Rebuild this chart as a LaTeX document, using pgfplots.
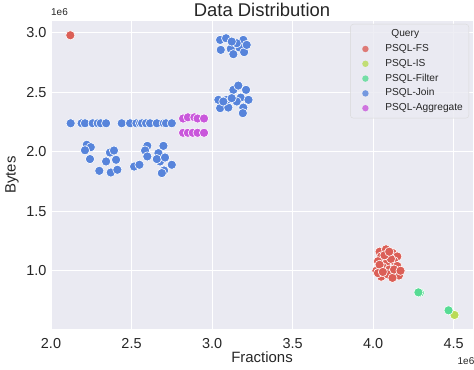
\documentclass[border=0pt]{standalone}
\usepackage{fontspec}
\setmainfont{Liberation Sans}
\usepackage{pgfplots}
\usepackage{pgfplotstable}
\pgfplotsset{compat=1.18}

\definecolor{axbg}{HTML}{EAEAF2}
\definecolor{cFS}{HTML}{DB5F57}
\definecolor{cIS}{HTML}{B9DB57}
\definecolor{cFilter}{HTML}{57DB94}
\definecolor{cJoin}{HTML}{5784DB}
\definecolor{cAgg}{HTML}{C957DB}
\definecolor{txt}{HTML}{262626}

% values in units of 1e6
\pgfplotstableread{
x y
2.12 2.98
4.04 1.16
4.08 1.18
4.12 1.15
4.15 1.12
4.05 1.12
4.03 1.08
4.08 1.06
4.13 1.08
4.06 1.03
4.10 1.01
4.02 1.00
4.14 0.99
4.16 0.96
4.05 0.95
4.09 0.97
4.12 0.94
4.04 1.05
4.11 1.10
4.07 1.13
4.15 1.04
4.03 0.98
4.10 1.16
4.13 1.01
4.06 0.99
4.17 1.00
}\tabFS

\pgfplotstableread{
x y
4.505 0.628
}\tabIS

\pgfplotstableread{
x y
4.29 0.815
4.281 0.818
4.468 0.667
}\tabFilter

\pgfplotstableread{
x y
2.122 2.24
2.190 2.24
2.211 2.24
2.259 2.24
2.290 2.24
2.309 2.24
2.342 2.24
2.439 2.24
2.491 2.24
2.530 2.24
2.553 2.24
2.565 2.24
2.590 2.24
2.615 2.24
2.657 2.24
2.700 2.24
2.714 2.24
2.750 2.24
2.222 2.059
2.247 2.039
2.211 2.013
2.242 1.939
2.366 1.994
2.391 2.011
2.342 1.919
2.404 1.933
2.300 1.840
2.371 1.826
2.412 1.849
2.516 1.876
2.549 1.891
2.598 2.050
2.584 2.011
2.598 1.961
2.667 1.989
2.698 2.050
2.677 1.919
2.657 1.939
2.708 1.952
2.750 1.891
2.702 1.843
2.688 1.821
3.050 2.941
3.087 2.955
3.054 2.857
3.116 2.866
3.132 2.821
3.170 2.877
3.194 2.941
3.199 2.838
3.153 2.913
3.122 2.927
3.215 2.899
3.039 2.437
3.050 2.367
3.101 2.372
3.091 2.437
3.132 2.521
3.163 2.557
3.211 2.521
3.178 2.456
3.194 2.372
3.191 2.325
3.226 2.437
3.153 2.423
3.122 2.451
3.070 2.423
}\tabJoin

\pgfplotstableread{
x y
2.82 2.28
2.85 2.29
2.89 2.29
2.91 2.28
2.95 2.28
2.82 2.16
2.85 2.16
2.88 2.16
2.91 2.16
2.95 2.16
}\tabAgg

\pgfplotsset{
  dot/.style={only marks, mark=*, mark size=4.6bp,
    mark options={fill=#1, draw=white, line width=0.6bp},
    legend image code/.code={
      \path[draw=none, fill=none] (0bp,-2bp) rectangle (29bp,2bp);
      \fill[#1, draw=none] (10bp,0bp) circle[radius=3.2bp];
    }},
}

\begin{document}
\begin{tikzpicture}[x=1bp,y=1bp]
\useasboundingbox (0,0) rectangle (474,369);
\begin{axis}[
  name=main,
  at={(51bp,40bp)}, anchor=south west,
  width=422bp, height=308bp, scale only axis,
  xmin=2.0, xmax=4.62, ymin=0.51, ymax=3.10,
  axis background/.style={fill=axbg},
  axis line style={draw=none},
  major tick length=0pt,
  grid=major,
  major grid style={white, line width=1.1bp},
  xtick={2,2.5,3,3.5,4,4.5},
  ytick={1,1.5,2,2.5,3},
  /pgf/number format/assume math mode=true,
  xticklabel={\pgfmathprintnumber[fixed,fixed zerofill,precision=1]{\tick}},
  yticklabel={\pgfmathprintnumber[fixed,fixed zerofill,precision=1]{\tick}},
  tick label style={font=\fontsize{14.5}{16}\selectfont, text=txt},
  xticklabel style={yshift=-6bp},
  yticklabel style={xshift=-1bp},
  title={Data Distribution},
  every axis title/.style={at={(axis description cs:0.5,1)}, yshift=11bp, anchor=center,
    font=\fontsize{18.5}{20}\selectfont, text=txt},
  xlabel={Fractions},
  every axis x label/.style={at={(axis description cs:0.5,0)}, yshift=-28bp, anchor=center,
    font=\fontsize{15}{17}\selectfont, text=txt},
  ylabel={Bytes},
  every axis y label/.style={at={(axis description cs:0,0.5)}, xshift=-39bp, rotate=90, anchor=center,
    font=\fontsize{15}{17}\selectfont, text=txt},
  legend cell align=left,
  legend style={at={(rel axis cs:1,1)}, anchor=north east, xshift=-4bp, yshift=-3bp,
    fill=axbg, fill opacity=0.8, text opacity=1, draw=black!15, rounded corners=3bp,
    font=\fontsize{10.2}{12}\selectfont, text=txt,
    nodes={inner sep=1bp, text height=7.5bp, text depth=2.5bp},
    row sep=2.8bp, inner xsep=5bp, inner ysep=4bp},
]
\addlegendimage{empty legend}
\addlegendentry{\hspace{6bp}Query}
\addplot[dot=cFS] table {\tabFS};
\addlegendentry{PSQL-FS}
\addplot[dot=cIS] table {\tabIS};
\addlegendentry{PSQL-IS}
\addplot[dot=cFilter] table {\tabFilter};
\addlegendentry{PSQL-Filter}
\addplot[dot=cJoin] table {\tabJoin};
\addlegendentry{PSQL-Join}
\addplot[dot=cAgg] table {\tabAgg};
\addlegendentry{PSQL-Aggregate}
\end{axis}
\node[anchor=south west, font=\fontsize{10}{12}\selectfont, text=txt, inner sep=0pt]
  at ([yshift=5bp]main.north west) {1e6};
\node[anchor=center, font=\fontsize{10}{12}\selectfont, text=txt, inner sep=0pt]
  at ([yshift=-32bp, xshift=-7bp]main.south east) {1e6};
\end{tikzpicture}
\end{document}
